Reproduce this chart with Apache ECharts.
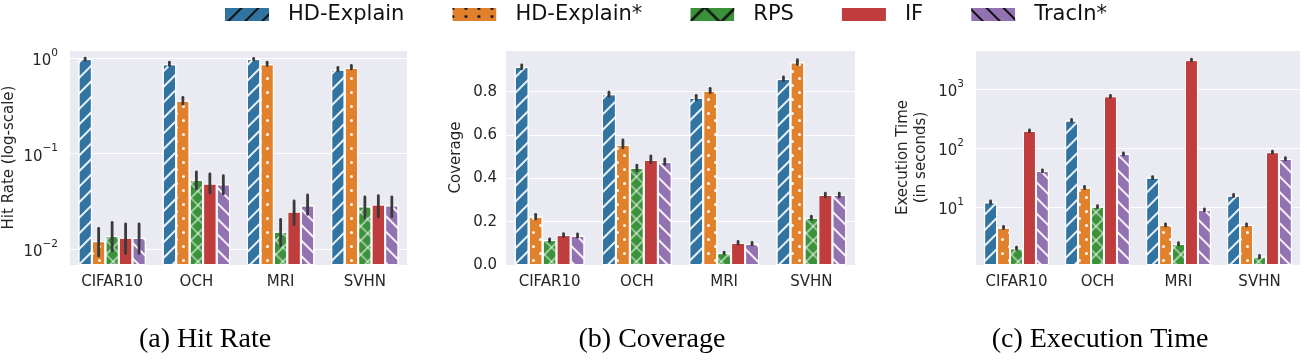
<!DOCTYPE html>
<html>
<head>
<meta charset="utf-8">
<script src="https://cdn.jsdelivr.net/npm/echarts@6/dist/echarts.min.js"></script>
<style>
  html, body { margin: 0; padding: 0; background: #fff; }
  #chart { width: 1307px; height: 360px; }
</style>
</head>
<body>
<div id="chart"></div>
<script>
const categories = ['CIFAR10', 'OCH', 'MRI', 'SVHN']
const methods = ['HD-Explain', 'HD-Explain*', 'RPS', 'IF', 'TracIn*']

// rows follow methods, columns follow categories
const hitRate = [
  [0.98, 0.865, 0.98, 0.76],
  [0.0121, 0.359, 0.865, 0.79],
  [0.0137, 0.0533, 0.0152, 0.028],
  [0.0131, 0.0484, 0.0246, 0.0292],
  [0.0131, 0.0477, 0.0287, 0.0287]
]
const hitRateLow = [
  [0.955, 0.836, 0.96, 0.74],
  [0.00845, 0.331, 0.84, 0.77],
  [0.0096, 0.0427, 0.0108, 0.0213],
  [0.009, 0.0387, 0.0181, 0.0217],
  [0.009, 0.0378, 0.0231, 0.0218]
]
const hitRateHigh = [
  [1.0, 0.908, 0.995, 0.8],
  [0.0165, 0.389, 0.91, 0.84],
  [0.019, 0.0643, 0.0205, 0.0352],
  [0.0183, 0.0612, 0.0319, 0.0363],
  [0.0183, 0.0587, 0.0369, 0.0352]
]

const coverage = [
  [0.914, 0.788, 0.772, 0.858],
  [0.223, 0.554, 0.803, 0.935],
  [0.115, 0.448, 0.055, 0.217],
  [0.138, 0.485, 0.102, 0.323],
  [0.135, 0.475, 0.098, 0.323]
]
const coverageLow = [
  [0.905, 0.778, 0.762, 0.85],
  [0.212, 0.54, 0.795, 0.925],
  [0.109, 0.436, 0.052, 0.211],
  [0.131, 0.472, 0.096, 0.314],
  [0.128, 0.464, 0.092, 0.314]
]
const coverageHigh = [
  [0.923, 0.798, 0.783, 0.868],
  [0.234, 0.577, 0.815, 0.948],
  [0.121, 0.461, 0.059, 0.225],
  [0.145, 0.503, 0.109, 0.332],
  [0.143, 0.489, 0.104, 0.332]
]

const execTime = [
  [12.0, 294, 31.5, 15.6],
  [4.45, 21.3, 4.94, 4.94],
  [1.98, 10.1, 2.35, 1.43],
  [196, 758, 3130, 85],
  [40.9, 79.6, 8.9, 65.5]
]
const execTimeLow = [
  [11.5, 282, 30.2, 15.0],
  [4.27, 20.4, 4.74, 4.74],
  [1.9, 9.7, 2.25, 1.37],
  [189, 730, 3030, 82],
  [39.3, 76.5, 8.55, 63]
]
const execTimeHigh = [
  [12.6, 306, 32.8, 16.3],
  [4.65, 22.3, 5.16, 5.16],
  [2.07, 10.5, 2.46, 1.5],
  [204, 790, 3240, 89],
  [42.7, 83, 9.3, 68.5]
]

const captions = ['(a) Hit Rate', '(b) Coverage', '(c) Execution Time']

const colors = ['#3274a1', '#e1812c', '#3a923a', '#c03d3e', '#9372b2']
const textColor = '#262626'

const crossPath = 'path://M0,4.4H10V5.6H0Z M4.4,0H5.6V10H4.4Z'

const barDecals = [
  { symbol: 'rect', symbolSize: 1, dashArrayX: [1, 0], dashArrayY: [1.2, 8.3], rotation: -Math.PI / 4, color: 'rgba(255,255,255,0.9)' },
  { symbol: 'circle', symbolSize: 1, dashArrayX: [[2.6, 10.4], [0, 6.5, 2.6, 3.9]], dashArrayY: [2.6, 3.9], color: 'rgba(255,255,255,0.95)' },
  { symbol: crossPath, symbolSize: 1, dashArrayX: [9.5, 0], dashArrayY: [9.5, 0], rotation: Math.PI / 4, color: 'rgba(255,255,255,0.9)' },
  null,
  { symbol: 'rect', symbolSize: 1, dashArrayX: [1, 0], dashArrayY: [1.2, 8.3], rotation: Math.PI / 4, color: 'rgba(255,255,255,0.9)' }
]
const legendDecals = [
  { symbol: 'rect', symbolSize: 1, dashArrayX: [1, 0], dashArrayY: [2, 10], rotation: -Math.PI / 4, color: '#111' },
  { symbol: 'circle', symbolSize: 1, dashArrayX: [3, 10], dashArrayY: [3, 4.5], color: '#111' },
  { symbol: crossPath, symbolSize: 1, dashArrayX: [22, 0], dashArrayY: [22, 0], rotation: Math.PI / 4, color: '#111' },
  null,
  { symbol: 'rect', symbolSize: 1, dashArrayX: [1, 0], dashArrayY: [2, 10], rotation: Math.PI / 4, color: '#111' }
]

const grids = [
  { left: 70, top: 50, width: 337, height: 215 },
  { left: 506, top: 50, width: 349, height: 215 },
  { left: 976, top: 50, width: 324, height: 215 }
]
const captionX = [205, 652, 1100]

const expLabel = v => {
  const e = Math.round(Math.log10(v))
  return '{b|10}{s|' + (e < 0 ? '\u2212' + (-e) : e) + '}'
}
const expRich = {
  b: { fontSize: 15, color: textColor, fontFamily: 'DejaVu Sans', lineHeight: 21, verticalAlign: 'bottom' },
  s: { fontSize: 10.5, color: textColor, fontFamily: 'DejaVu Sans', lineHeight: 12, verticalAlign: 'top' }
}

const baseY = {
  axisLine: { show: false },
  axisTick: { show: false },
  splitLine: { show: true, lineStyle: { color: '#fff', width: 1 } },
  nameLocation: 'middle',
  nameTextStyle: { fontSize: 15, color: textColor, fontFamily: 'DejaVu Sans' }
}

const yAxes = [
  Object.assign({}, baseY, {
    gridIndex: 0, type: 'log', logBase: 10, min: 0.0068, max: 1.22, startValue: 0.0068,
    name: 'Hit Rate (log-scale)', nameGap: 53,
    minorTick: { show: false }, minorSplitLine: { show: false },
    axisLabel: { formatter: expLabel, rich: expRich, margin: 12, showMinLabel: false, showMaxLabel: false }
  }),
  Object.assign({}, baseY, {
    gridIndex: 1, type: 'value', min: 0, max: 0.992, interval: 0.2,
    name: 'Coverage', nameGap: 42,
    axisLabel: { formatter: v => v.toFixed(1), fontSize: 15, color: textColor, fontFamily: 'DejaVu Sans', margin: 9, showMaxLabel: false }
  }),
  Object.assign({}, baseY, {
    gridIndex: 2, type: 'log', logBase: 10, min: 1.03, max: 4650, startValue: 1.03,
    name: 'Execution Time\n(in seconds)', nameGap: 46,
    nameTextStyle: { fontSize: 15, color: textColor, fontFamily: 'DejaVu Sans', lineHeight: 18 },
    minorTick: { show: false }, minorSplitLine: { show: false },
    axisLabel: { formatter: expLabel, rich: expRich, margin: 12, showMinLabel: false, showMaxLabel: false }
  })
]

const xAxes = grids.map((g, i) => ({
  gridIndex: i,
  type: 'category',
  data: categories,
  axisLine: { show: false },
  axisTick: { show: false },
  splitLine: { show: false },
  axisLabel: { fontSize: 15, color: textColor, fontFamily: 'DejaVu Sans', margin: 10 }
}))

const panels = [
  [hitRate, hitRateLow, hitRateHigh],
  [coverage, coverageLow, coverageHigh],
  [execTime, execTimeLow, execTimeHigh]
]

const series = []
panels.forEach(([vals, lows, highs], p) => {
  methods.forEach((m, s) => {
    const itemStyle = { color: colors[s], borderColor: '#fff', borderWidth: 1 }
    if (barDecals[s]) itemStyle.decal = barDecals[s]
    series.push({
      name: m,
      type: 'bar',
      xAxisIndex: p,
      yAxisIndex: p,
      data: vals[s],
      barGap: '0%',
      barCategoryGap: '20%',
      itemStyle: itemStyle,
      emphasis: { disabled: true }
    })
  })
  const errData = []
  methods.forEach((m, s) => {
    categories.forEach((c, k) => errData.push([k, lows[s][k], highs[s][k], s]))
  })
  series.push({
    type: 'custom',
    xAxisIndex: p,
    yAxisIndex: p,
    data: errData,
    encode: { x: 0, y: [1, 2] },
    z: 5,
    silent: true,
    renderItem: (params, api) => {
      const k = api.value(0)
      const lo = api.value(1)
      const hi = api.value(2)
      const s = api.value(3)
      const p0 = api.coord([k, lo])
      const p1 = api.coord([k, hi])
      const band = api.coord([1, hi])[0] - api.coord([0, hi])[0]
      const bw = band * 0.8 / methods.length
      const x = p0[0] + (s - 2) * bw
      return {
        type: 'line',
        shape: { x1: x, y1: p0[1], x2: x, y2: p1[1] },
        style: { stroke: '#3a3a3a', lineWidth: 2.8, lineCap: 'round' }
      }
    }
  })
})

const chart = echarts.init(document.getElementById('chart'))
chart.setOption({
  animation: false,
  backgroundColor: '#fff',
  legend: {
    left: 218,
    top: -1,
    itemWidth: 46,
    itemHeight: 15,
    itemGap: 46,
    textStyle: { fontSize: 21, color: '#111', fontFamily: 'DejaVu Sans', padding: [0, 0, 0, 13] },
    data: methods.map((m, s) => {
      const d = { name: m, icon: 'rect' }
      if (legendDecals[s]) d.itemStyle = { decal: legendDecals[s] }
      return d
    })
  },
  grid: grids.map(g => Object.assign({ show: true, backgroundColor: '#eaeaf2', borderWidth: 0 }, g)),
  xAxis: xAxes,
  yAxis: yAxes,
  graphic: captions.map((t, i) => ({
    type: 'text',
    x: captionX[i],
    y: 340,
    style: { text: t, font: '28px "Liberation Serif"', fill: '#000', align: 'center', verticalAlign: 'middle' }
  })),
  series: series
})
</script>
</body>
</html>
